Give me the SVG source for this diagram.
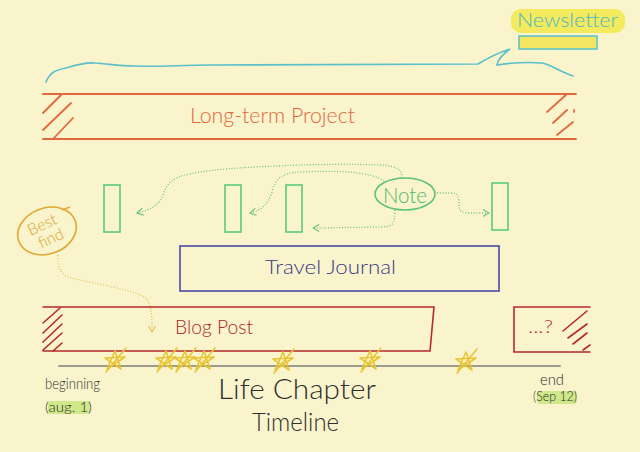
<svg xmlns="http://www.w3.org/2000/svg" width="640" height="452" viewBox="0 0 640 452">
<defs>
<style>
.hand{font-family:Lato,"Open Sans","Liberation Sans",sans-serif;font-weight:300}
.ltp{fill:none;stroke:#e2683f;stroke-width:1.8;stroke-linecap:round}
.blog{fill:none;stroke:#b52a2a;stroke-width:1.6;stroke-linecap:round}
.moment{fill:none;stroke:#5ccb7a;stroke-width:1.6}
.dotg{fill:none;stroke:#6cc384;stroke-width:1.3;stroke-dasharray:1 1.8}
.doty{fill:none;stroke:#e2c25e;stroke-width:1.3;stroke-dasharray:1 1.8}
.star{fill:none;stroke:#e8c534;stroke-width:1.6;stroke-linejoin:round;stroke-linecap:round}
</style>
<marker id="ag" viewBox="0 0 8 8" refX="7" refY="4" markerWidth="8" markerHeight="8" markerUnits="userSpaceOnUse" orient="auto">
<path d="M1,0.5 L7,4 L1,7.5" fill="none" stroke="#6cc384" stroke-width="1.2"/>
</marker>
<marker id="ay" viewBox="0 0 8 8" refX="7" refY="4" markerWidth="8" markerHeight="8" markerUnits="userSpaceOnUse" orient="auto">
<path d="M1,0.5 L7,4 L1,7.5" fill="none" stroke="#e2c25e" stroke-width="1.2"/>
</marker>
<g id="starShape">
<path class="star" d="M-8,9 L0,-9 L6,9 L-10,-2 L10,-3 Z"/>
<path class="star" d="M-9,12 L11,-12"/>
</g>
</defs>
<rect width="640" height="452" fill="#f9f4cb"/>

<g id="connectors">
<path d="M46,82 C50,72 56,70 66,68 C76,65 85,62 95,63 C110,64 118,66 135,66 C160,67 180,65 210,65 L478,64 C488,58 498,53 510,49 C503,54 498,59 497,65 C510,63 530,62 542,63 C552,65 560,72 573,76" fill="none" stroke="#5bbfcc" stroke-width="1.6" stroke-linecap="round"/>
<path class="dotg" d="M402,178 C402,170 398,166 380,165 C330,163 240,166 200,172 C175,176 168,180 163,195 C160,205 150,210 137,213" marker-end="url(#ag)"/>
<path class="dotg" d="M384,181 C372,172 340,170 300,172 C280,173 275,180 272,192 C268,205 260,211 250,213" marker-end="url(#ag)"/>
<path class="dotg" d="M395,210 C394,220 396,227 382,227 L313,228" marker-end="url(#ag)"/>
<path class="dotg" d="M437,193 L453,193 C458,193 459,198 459,205 C459,211 462,213 470,213 L489,213" marker-end="url(#ag)"/>
<path class="doty" d="M58,255 C57,268 60,275 75,279 C100,284 130,290 143,296 C152,302 152,315 152,332" marker-end="url(#ay)"/>
</g>

<g id="newsletter">
<rect x="511" y="9" width="114" height="24" rx="10" fill="#f3ea5e"/>
<rect x="519" y="36" width="78" height="13" fill="#f3e660" stroke="#5bbfcc" stroke-width="1.5"/>
<text class="hand" x="517" y="27" font-size="20" textLength="101" lengthAdjust="spacingAndGlyphs" fill="#4eb6c6">Newsletter</text>
</g>

<g id="long-term-project">
<path class="ltp" d="M43,94 L576,94 M43,139 L576,139"/>
<path class="ltp" d="M43,113 L62,94 M43,130 L71,103 M53,139 L73,118 M547,112 L567,94 M553,123 L567,110 M557,135 L573,122 M574,110 L574,112"/>
<text class="hand" x="190" y="123" font-size="22" textLength="165" lengthAdjust="spacingAndGlyphs" fill="#e0683f">Long-term Project</text>
</g>

<g id="moments">
<rect class="moment" x="104" y="185" width="16" height="47"/>
<rect class="moment" x="225" y="185" width="16" height="47"/>
<rect class="moment" x="286" y="185" width="16" height="47"/>
<rect class="moment" x="492" y="183" width="16" height="47"/>
</g>

<g id="note">
<ellipse cx="405" cy="194" rx="30" ry="16" fill="none" stroke="#5cc274" stroke-width="1.6"/>
<text class="hand" x="383" y="203" font-size="22" textLength="44" lengthAdjust="spacingAndGlyphs" fill="#4cba68">Note</text>
</g>

<g id="best-find">
<ellipse cx="47" cy="231" rx="30" ry="23" transform="rotate(-20 47 231)" fill="none" stroke="#e0a832" stroke-width="1.6"/>
<path d="M62,210 L70,207" fill="none" stroke="#e0a832" stroke-width="1.6"/>
<g transform="rotate(-25 47 235)">
<text class="hand" x="47" y="229" font-size="16" text-anchor="middle" fill="#d9a22e">Best</text>
<text class="hand" x="49" y="245" font-size="16" text-anchor="middle" fill="#d9a22e">find</text>
</g>
</g>

<g id="travel-journal">
<rect x="180" y="246" width="319" height="45" fill="none" stroke="#4a4aa6" stroke-width="1.6"/>
<text class="hand" x="265" y="274" font-size="20" textLength="131" lengthAdjust="spacingAndGlyphs" fill="#3a3a88">Travel Journal</text>
</g>

<g id="blog-post">
<path class="blog" d="M43,307 L434,307 L430,351 L43,351"/>
<path class="blog" d="M43,323 L60,308 M43,333 L62,315 M43,342 L62,324 M43,350 L62,333 M53,351 L62,343"/>
<text class="hand" x="175" y="334" font-size="20" textLength="78" lengthAdjust="spacingAndGlyphs" fill="#b02626">Blog Post</text>
</g>

<g id="unknown">
<path class="blog" d="M590,307 L514,307 L514,352 L590,352"/>
<path class="blog" d="M563,331 L587,311 M568,338 L587,324 M573,344 L587,333 M583,350 L590,345"/>
<text class="hand" x="528" y="333" font-size="18" textLength="25" lengthAdjust="spacingAndGlyphs" fill="#b03030">...?</text>
</g>

<g id="timeline">
<path d="M59,366 L560,366" stroke="#9b9b90" stroke-width="2" fill="none" stroke-linecap="round"/>
<use href="#starShape" transform="translate(115,360)"/>
<use href="#starShape" transform="translate(166,360)"/>
<use href="#starShape" transform="translate(185,360)"/>
<use href="#starShape" transform="translate(204,360)"/>
<use href="#starShape" transform="translate(283,361)"/>
<use href="#starShape" transform="translate(370,360)"/>
<use href="#starShape" transform="translate(466,361)"/>
<text class="hand" x="218" y="399" font-size="28" textLength="158" lengthAdjust="spacingAndGlyphs" fill="#2e2e2e">Life Chapter</text>
<text class="hand" x="252" y="431" font-size="25" textLength="87" lengthAdjust="spacingAndGlyphs" fill="#2e2e2e">Timeline</text>
</g>

<g id="beginning">
<rect x="48" y="401" width="42" height="13" rx="4" fill="#cfe88a"/>
<text class="hand" x="45" y="389" font-size="15" textLength="55" lengthAdjust="spacingAndGlyphs" fill="#2e2e2e">beginning</text>
<text class="hand" x="45" y="412" font-size="14" textLength="47" lengthAdjust="spacingAndGlyphs" fill="#2e2e2e">(aug. 1)</text>
</g>

<g id="end">
<rect x="537" y="391" width="40" height="13" rx="4" fill="#cfe88a"/>
<text class="hand" x="540" y="385" font-size="15" textLength="24" lengthAdjust="spacingAndGlyphs" fill="#2e2e2e">end</text>
<text class="hand" x="533" y="401" font-size="13" textLength="44" lengthAdjust="spacingAndGlyphs" fill="#2e2e2e">(Sep 12)</text>
</g>
</svg>
